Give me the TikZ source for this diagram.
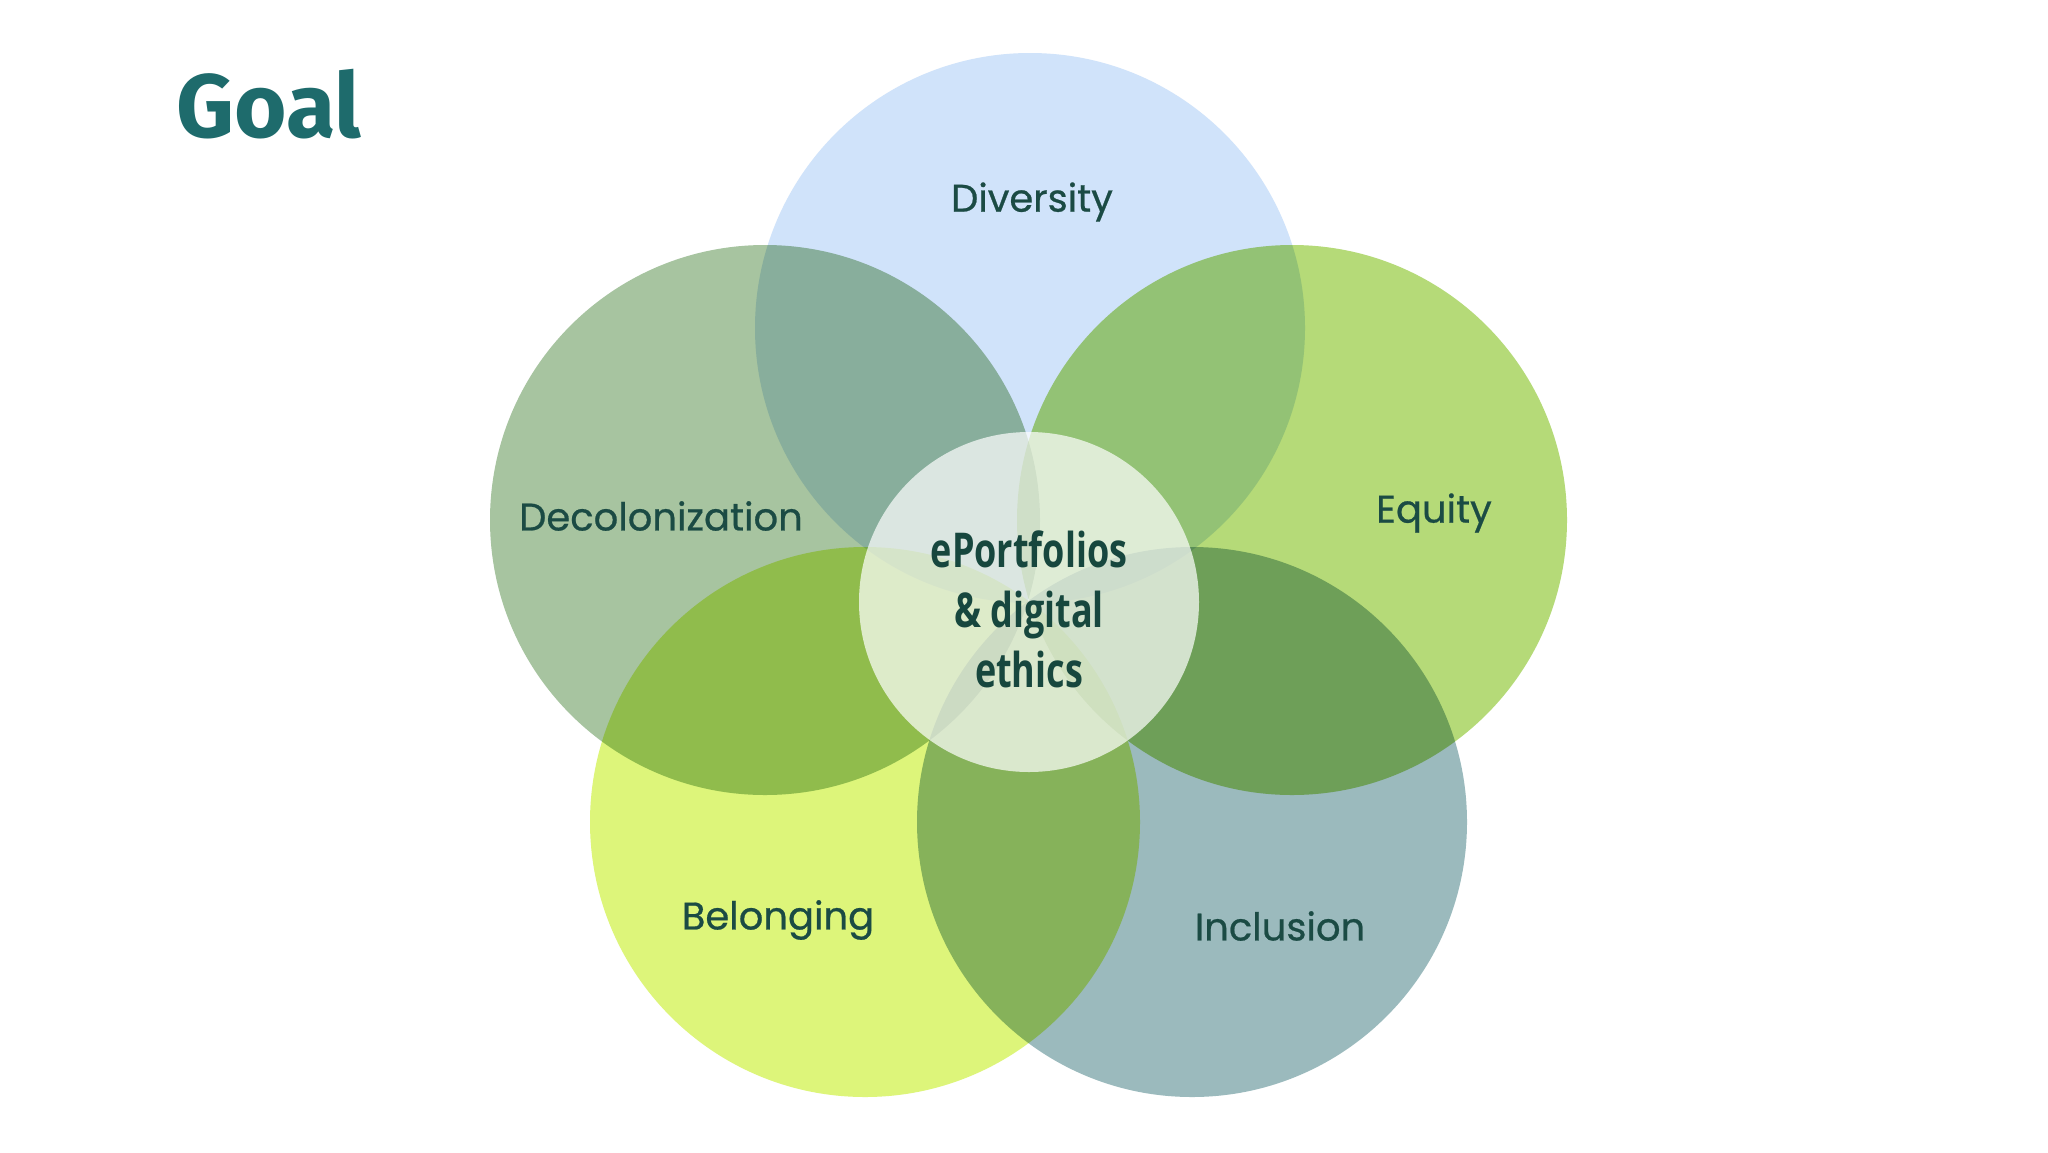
\documentclass[tikz,border=0pt]{standalone}
\usepackage{fontspec}
\setmainfont{Poppins}[FakeBold=0.6]
\newfontfamily\goalfont{Fira Sans}
\newfontfamily\centfont{Open Sans}[FakeStretch=0.75]
\definecolor{cDiv}{HTML}{D0E3FA}
\definecolor{cEq}{HTML}{B5DA78}
\definecolor{cDec}{HTML}{A7C4A0}
\definecolor{cBel}{HTML}{DDF57A}
\definecolor{cInc}{HTML}{9BBABD}
\definecolor{goalc}{HTML}{1E6B6C}
\definecolor{labc}{HTML}{1B4B44}
\definecolor{centc}{HTML}{17473E}
\tikzset{
  petal/.style={circle, minimum size=550pt, inner sep=0pt, draw=none},
  lab/.style={text=labc, font=\fontsize{38.5}{42}\selectfont, inner sep=0pt},
}
\begin{document}
\begin{tikzpicture}[x=1pt,y=-1pt]
\useasboundingbox[fill=white] (0,0) rectangle (2048,1152);
\begin{scope}[blend mode=multiply]
  \node[petal, fill=cDiv] (div) at (1030,328) {};
  \node[petal, fill=cEq]  (eq)  at (1292,520) {};
  \node[petal, fill=cDec] (dec) at (765,520) {};
  \node[petal, fill=cBel] (bel) at (865,822) {};
  \node[petal, fill=cInc] (inc) at (1192,822) {};
\end{scope}
\node[circle, minimum size=340pt, inner sep=0pt, fill=white, fill opacity=0.7] (core) at (1029,602) {};
\node[text=centc, align=center, inner sep=0pt, font=\centfont\bfseries\fontsize{48}{60}\selectfont] (coretext) at (1029,609)
      {ePortfolios\\\& digital\\ethics};
\node[lab] (tdiv) at (1032,202) {Diversity};
\node[lab] (teq)  at (1434,513) {Equity};
\node[lab] (tdec) at (661,516) {Decolonization};
\node[lab] (tbel) at (778,920) {Belonging};
\node[lab] (tinc) at (1280,926) {Inclusion};
\node[anchor=base west, inner sep=0pt, text=goalc, font=\goalfont\bfseries\fontsize{90}{100}\selectfont] (goal) at (176,137) {Goal};
\end{tikzpicture}
\end{document}
